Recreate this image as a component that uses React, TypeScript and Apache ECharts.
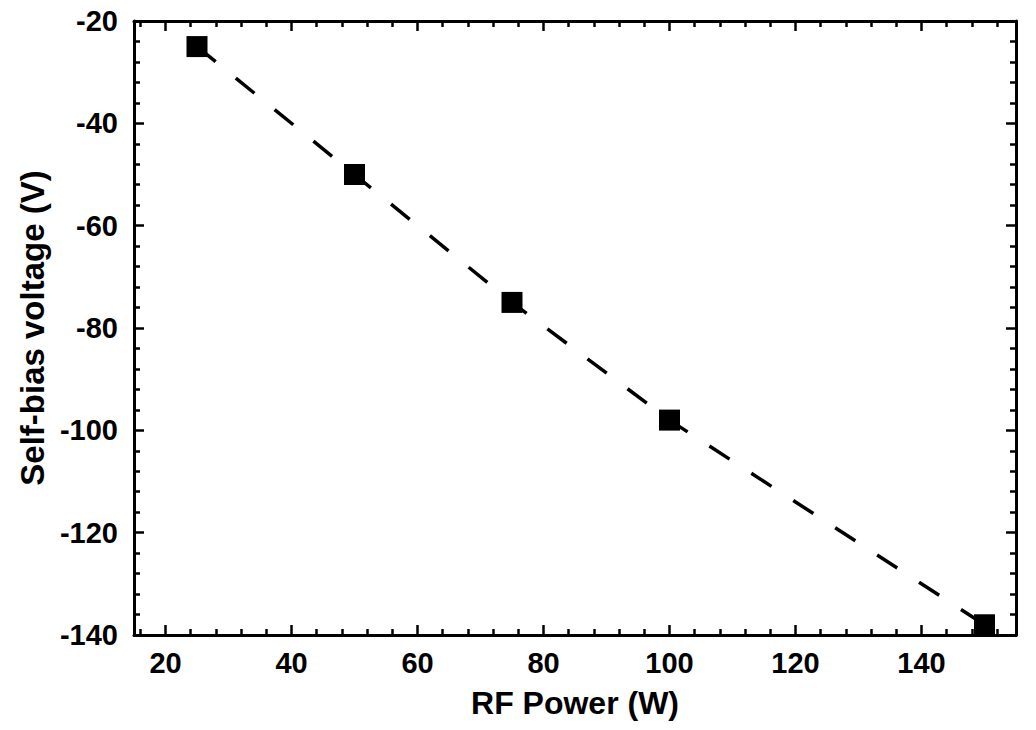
import { useEffect, useRef } from 'react'
import * as echarts from 'echarts'

const powerW = [25, 50, 75, 100, 150]
const biasV = [-25, -50, -75, -98, -138]

const xMajorTicks = [20, 40, 60, 80, 100, 120, 140]
const xMinorTicks = [16, 24, 28, 32, 36, 44, 48, 52, 56, 64, 68, 72, 76, 84, 88, 92, 96, 104, 108, 112, 116, 124, 128, 132, 136, 144, 148, 152]

const font = 'Liberation Sans, Arial, sans-serif'
const ink = '#000'

export default function App() {
  const ref = useRef<HTMLDivElement>(null)

  useEffect(() => {
    if (!ref.current) return
    const chart = echarts.init(ref.current, undefined, { renderer: 'svg' })

    // one helper for the four x axes (bottom/top, major/minor ticks)
    const xAxis = (position: 'bottom' | 'top', ticks: number[], len: number, main: boolean) => ({
      type: 'value',
      position,
      min: 15,
      max: 155,
      axisLine: { show: main, lineStyle: { color: ink, width: 3 } },
      axisTick: {
        show: true,
        inside: true,
        length: len,
        customValues: ticks,
        lineStyle: { color: ink, width: 2.5 },
      },
      axisLabel: main && position === 'bottom'
        ? { show: true, customValues: xMajorTicks, color: ink, fontFamily: font, fontWeight: 'bold', fontSize: 29, margin: 13 }
        : { show: false },
      splitLine: { show: false },
      ...(main && position === 'bottom'
        ? {
            name: 'RF Power (W)',
            nameLocation: 'middle',
            nameGap: 52,
            nameTextStyle: { color: ink, fontFamily: font, fontWeight: 'bold', fontSize: 32 },
          }
        : {}),
    })

    const yAxis = (position: 'left' | 'right', labels: boolean) => ({
      type: 'value',
      position,
      min: -140,
      max: -20,
      interval: 20,
      axisLine: { show: true, lineStyle: { color: ink, width: 3 } },
      axisTick: { show: true, inside: true, length: 10, lineStyle: { color: ink, width: 2.5 } },
      minorTick: { show: true, splitNumber: 5, length: 6, lineStyle: { color: ink, width: 2.5 } },
      axisLabel: labels
        ? { show: true, color: ink, fontFamily: font, fontWeight: 'bold', fontSize: 29, margin: 16 }
        : { show: false },
      splitLine: { show: false },
      ...(labels
        ? {
            name: 'Self-bias voltage (V)',
            nameLocation: 'middle',
            nameGap: 81,
            nameTextStyle: { color: ink, fontFamily: font, fontWeight: 'bold', fontSize: 33 },
          }
        : {}),
    })

    chart.setOption({
      animation: false,
      backgroundColor: '#fff',
      grid: { left: 134, right: 20, top: 21, bottom: 95, containLabel: false },
      xAxis: [
        xAxis('bottom', xMajorTicks, 10, true),
        xAxis('bottom', xMinorTicks, 6, false),
        xAxis('top', xMajorTicks, 10, true),
        xAxis('top', xMinorTicks, 6, false),
      ],
      yAxis: [yAxis('left', true), yAxis('right', false)],
      series: [
        {
          type: 'line',
          xAxisIndex: 0,
          yAxisIndex: 0,
          data: powerW.map((p, i) => [p, biasV[i]]),
          symbol: 'rect',
          symbolSize: 21,
          itemStyle: { color: ink },
          lineStyle: { color: ink, width: 3.5, type: [24, 26] },
          clip: false,
        },
      ],
    })

    return () => chart.dispose()
  }, [])

  return (
    <div
      ref={ref}
      style={{ position: 'fixed', left: 0, top: 0, width: 1036, height: 730 }}
    />
  )
}
